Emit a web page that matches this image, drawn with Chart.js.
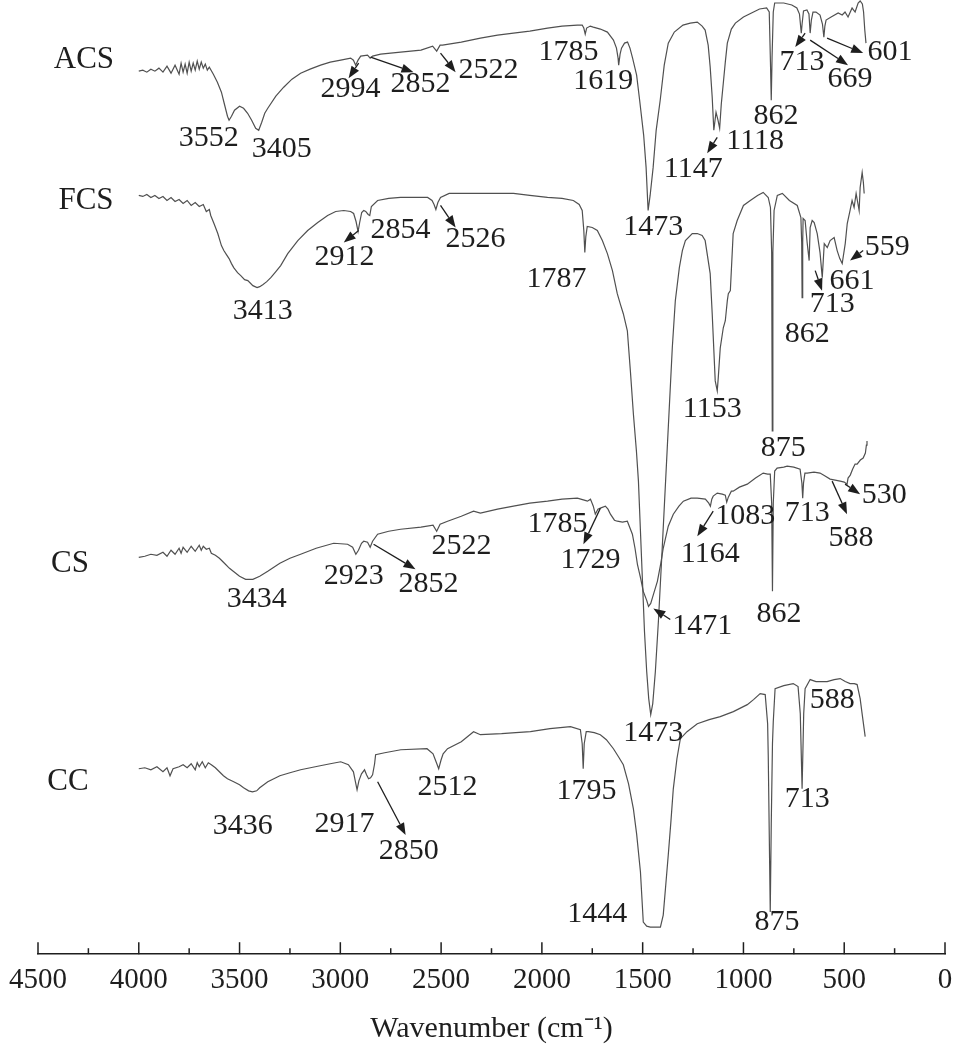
<!DOCTYPE html>
<html>
<head>
<meta charset="utf-8">
<title>FTIR spectra</title>
<script src="https://cdn.jsdelivr.net/npm/chart.js@4.4.1/dist/chart.umd.min.js"></script>
<style>
  html, body { margin: 0; padding: 0; background: #fff; }
  canvas { display: block; }
</style>
</head>
<body>
<canvas id="ftirChart" width="955" height="1051"></canvas>
<script>
// Spectra: [wavenumber (cm-1), relative signal (a.u., offset per curve)]
const acsSpectrum = [
  [4000,871],[3980,872],[3960,870],[3940,873],[3920,871],[3900,874],[3880,870],[3860,876],[3840,869],[3820,877],
  [3800,868],[3790,879],[3780,870],[3770,878],[3760,869],[3750,880],[3740,871],[3730,879],[3720,872],[3710,881],
  [3700,873],[3690,880],[3680,874],[3670,878],[3660,872],[3650,875],[3630,868],[3610,860],[3590,850],[3575,838],
  [3560,826],[3552,822],[3540,826],[3525,832],[3500,836],[3480,834],[3460,829],[3440,822],[3420,814],[3405,812],
  [3390,820],[3375,829],[3360,834],[3320,846],[3281,855],[3240,863],[3197,869],[3150,873],[3098,877],[3050,880],
  [2998,882],[2949,884],[2935,882],[2924,877],[2912,882],[2899,886],[2865,887],[2852,884],[2840,886],[2800,888],
  [2701,890],[2600,892],[2542,896],[2522,891],[2505,897],[2493,897],[2400,900],[2305,904],[2220,907],[2141,909],
  [2060,911],[1972,914],[1900,916],[1824,917],[1800,917],[1792,914],[1785,908],[1778,914],[1760,916],[1745,915],
  [1710,913],[1675,910],[1645,902],[1630,894],[1622,884],[1619,877],[1612,888],[1605,894],[1590,899],[1575,900],
  [1563,894],[1550,884],[1530,867],[1515,842],[1495,807],[1483,775],[1473,732],[1463,747],[1448,775],[1433,812],
  [1413,842],[1393,877],[1373,899],[1343,910],[1300,917],[1264,919],[1229,920],[1205,916],[1190,912],[1175,897],
  [1165,875],[1155,845],[1147,812],[1136,830],[1126,822],[1118,814],[1110,838],[1100,859],[1090,880],[1080,899],
  [1060,913],[1040,919],[1000,925],[960,929],[920,933],[885,934],[872,930],[866,880],[862,842],[858,885],
  [852,930],[845,939],[800,939],[760,937],[735,934],[722,928],[716,915],[713,909],[709,918],[702,931],
  [685,932],[675,928],[669,909],[663,922],[655,930],[640,930],[620,927],[608,918],[601,905],[596,916],
  [590,922],[565,925],[530,929],[510,927],[496,930],[481,925],[461,934],[446,930],[431,939],[421,941],
  [410,938],[404,930],[398,912],[392,899]
];

const fcsSpectrum = [
  [4000,747],[3980,746],[3960,748],[3940,745],[3920,747],[3900,744],[3880,746],[3860,742],[3840,745],[3820,741],
  [3800,743],[3780,739],[3760,742],[3740,737],[3720,740],[3700,736],[3680,738],[3665,731],[3650,733],[3643,727],
  [3625,718],[3608,709],[3590,697],[3578,692],[3565,688],[3552,684],[3540,679],[3529,675],[3510,670],[3494,667],
  [3475,663],[3459,662],[3434,657],[3413,655],[3400,656],[3385,658],[3365,661],[3345,665],[3320,671],[3296,677],
  [3261,689],[3211,702],[3162,712],[3112,720],[3063,727],[3023,731],[2983,732],[2949,731],[2934,729],[2922,721],
  [2912,711],[2904,720],[2894,730],[2884,732],[2874,731],[2862,728],[2854,727],[2846,736],[2815,742],[2760,744],
  [2701,745],[2630,745],[2567,745],[2545,742],[2535,738],[2526,733],[2516,740],[2503,745],[2460,749],[2380,749],
  [2300,749],[2220,749],[2141,749],[2060,747],[1972,745],[1900,744],[1844,742],[1815,738],[1800,732],[1792,712],
  [1787,690],[1782,706],[1775,716],[1750,715],[1725,712],[1700,702],[1675,689],[1650,672],[1626,649],[1610,638],
  [1596,629],[1576,612],[1561,572],[1546,529],[1531,492],[1521,462],[1511,412],[1501,362],[1491,312],[1480,272],
  [1470,245],[1460,229],[1450,240],[1437,272],[1422,322],[1403,395],[1378,495],[1353,595],[1338,642],[1318,675],
  [1303,692],[1288,702],[1254,709],[1229,709],[1205,707],[1190,702],[1165,669],[1155,629],[1140,562],[1130,552],
  [1125,565],[1115,595],[1100,615],[1090,622],[1080,642],[1075,649],[1065,652],[1051,709],[1031,722],[1000,737],
  [966,742],[930,747],[902,750],[877,745],[866,735],[860,690],[857,512],[854,690],[848,732],[832,747],
  [807,749],[772,742],[733,737],[715,725],[711,700],[709,645],[706,700],[704,724],[694,722],[684,700],
  [674,682],[669,715],[659,722],[649,720],[634,709],[620,690],[609,665],[599,699],[584,695],[570,702],
  [550,705],[535,692],[522,684],[510,679],[495,699],[485,719],[471,732],[461,742],[451,735],[441,749],
  [426,732],[421,755],[411,770],[405,760],[401,749]
];

const csSpectrum = [
  [4000,386],[3970,387],[3940,389],[3910,388],[3880,391],[3860,387],[3840,393],[3820,389],[3800,395],[3790,390],
  [3780,396],[3760,391],[3740,397],[3720,392],[3700,398],[3690,393],[3680,397],[3665,394],[3650,395],[3640,390],
  [3620,388],[3600,385],[3575,380],[3550,375],[3525,371],[3500,367],[3470,364],[3434,364],[3400,367],[3360,372],
  [3300,380],[3250,385],[3197,389],[3120,395],[3033,400],[2964,399],[2939,396],[2923,389],[2910,393],[2895,400],
  [2884,402],[2865,401],[2852,396],[2840,402],[2815,409],[2760,412],[2701,414],[2600,416],[2540,418],[2522,412],
  [2505,419],[2468,422],[2400,427],[2339,432],[2305,430],[2220,434],[2141,437],[2060,440],[1972,442],[1900,444],
  [1824,445],[1790,443],[1774,442],[1759,444],[1745,437],[1735,429],[1722,434],[1710,435],[1685,437],[1672,434],
  [1660,429],[1640,423],[1626,422],[1600,421],[1576,422],[1551,409],[1538,395],[1526,379],[1510,365],[1497,352],
  [1480,343],[1471,337],[1460,340],[1445,350],[1427,362],[1410,380],[1398,395],[1373,417],[1348,429],[1320,437],
  [1298,442],[1260,445],[1229,445],[1189,444],[1172,440],[1164,437],[1157,444],[1150,447],[1130,450],[1105,449],
  [1090,448],[1083,441],[1075,446],[1060,452],[1051,452],[1020,456],[981,459],[940,465],[902,470],[880,469],
  [867,469],[860,440],[856,352],[852,440],[845,472],[833,475],[800,476],[783,477],[750,476],[719,474],
  [710,460],[706,445],[702,460],[695,470],[684,470],[650,471],[620,470],[595,467],[570,464],[545,463],
  [520,462],[500,461],[486,459],[481,465],[470,468],[458,474],[446,479],[436,479],[420,483],[406,485],
  [395,490],[390,498],[387,502]
];

const ccSpectrum = [
  [4000,175],[3970,176],[3940,174],[3910,177],[3880,172],[3860,176],[3845,168],[3830,175],[3800,177],[3780,179],
  [3760,176],[3740,180],[3720,174],[3710,181],[3700,177],[3685,182],[3670,176],[3655,181],[3640,179],[3620,176],
  [3600,172],[3580,168],[3560,165],[3529,162],[3500,159],[3480,156],[3455,153],[3436,152],[3415,153],[3400,156],
  [3380,159],[3360,162],[3330,165],[3300,168],[3250,171],[3197,174],[3100,178],[3050,180],[2998,182],[2960,179],
  [2935,172],[2925,162],[2917,154],[2908,163],[2895,170],[2880,174],[2870,169],[2860,165],[2850,166],[2840,169],
  [2830,180],[2825,189],[2780,191],[2700,194],[2570,195],[2540,190],[2525,182],[2512,175],[2500,184],[2490,190],
  [2468,195],[2400,202],[2339,212],[2305,209],[2200,210],[2130,211],[2057,212],[1960,215],[1858,217],[1809,214],
  [1800,200],[1795,175],[1790,200],[1780,212],[1769,212],[1740,211],[1710,209],[1680,204],[1645,195],[1620,187],
  [1596,179],[1570,160],[1546,135],[1530,110],[1511,72],[1497,22],[1480,18],[1462,17],[1412,17],[1398,29],
  [1385,60],[1373,89],[1360,122],[1348,155],[1330,185],[1313,205],[1280,212],[1229,220],[1170,224],[1115,227],
  [1050,232],[981,239],[950,244],[917,250],[892,249],[880,220],[877,189],[870,80],[867,32],[862,120],
  [856,200],[852,222],[843,255],[800,258],[753,260],[729,257],[718,230],[709,155],[701,230],[694,255],
  [669,264],[640,262],[585,262],[550,264],[520,265],[495,262],[471,260],[450,260],[436,259],[421,245],
  [410,228],[396,207]
];

// Sample names: [text, wavenumber, signal]
const sampleNames = [
  ['ACS', 4272, 882], ['FCS', 4262, 742], ['CS', 4341, 379], ['CC', 4351, 162]
];

// Peak labels: [text, wavenumber, signal]
const peakLabels = [
  ['3552',3653,804],['3405',3291,793],['2994',2949,853],['2852',2602,858],['2522',2265,872],['1785',1868,890],
  ['1619',1695,861],['1473',1447,715],['1147',1249,773],['1118',942,801],['862',838,826],['713',709,880],
  ['669',471,863],['601',273,890],
  ['3413',3385,632],['2912',2979,685],['2854',2701,712],['2526',2329,703],['1787',1928,664],['1473',1447,211],
  ['1153',1155,534],['875',803,495],['862',684,609],['713',560,639],['661',461,662],['559',287,695],
  ['3434',3415,344],['2923',2934,367],['2852',2562,359],['2522',2399,397],['1785',1923,419],['1729',1759,383],
  ['1471',1204,317],['1164',1165,389],['1083',991,427],['713',684,430],['588',466,405],['530',302,448],
  ['862',823,329],
  ['3436',3484,118],['2917',2979,120],['2850',2661,93],['2512',2468,157],['1795',1779,153],['1444',1725,30],
  ['875',833,22],['713',684,145],['588',560,243]
];

// Arrows: [from wavenumber, from signal, to wavenumber, to signal]
const peakArrows = [
  [2909,879,2959,864],[2850,885,2637,870],[2503,889,2428,870],[1130,805,1180,789],
  [694,909,743,895],[669,902,481,877],[585,904,406,889],
  [2909,712,2983,700],[2503,737,2428,715],[644,672,610,652],[406,692,471,682],
  [2835,399,2627,374],[1710,435,1794,399],[1363,324,1447,335],[1150,432,1229,407],
  [560,462,486,429],[496,459,421,449],
  [2815,162,2676,109]
];

const serif = '"Liberation Serif", "Times New Roman", serif';
const inkColor = '#1e1e1e';
const lineColor = '#505050';

function toPoints(spectrum) {
  return spectrum.map(p => ({ x: p[0], y: p[1] }));
}

const annotationPlugin = {
  id: 'ftirAnnotations',
  afterDraw(chart) {
    const { ctx, chartArea } = chart;
    const xScale = chart.scales.x;
    const yScale = chart.scales.y;
    ctx.save();

    // inward tick marks on the wavenumber axis
    ctx.strokeStyle = inkColor;
    ctx.lineWidth = 1.5;
    for (let v = 0; v <= 4500; v += 250) {
      const px = xScale.getPixelForValue(v);
      const len = v % 500 === 0 ? 12 : 6;
      ctx.beginPath();
      ctx.moveTo(px, chartArea.bottom);
      ctx.lineTo(px, chartArea.bottom - len);
      ctx.stroke();
    }

    ctx.fillStyle = inkColor;
    ctx.textAlign = 'center';
    ctx.textBaseline = 'middle';

    ctx.font = '31px ' + serif;
    sampleNames.forEach(([text, wn, s]) => {
      ctx.fillText(text, xScale.getPixelForValue(wn), yScale.getPixelForValue(s));
    });

    ctx.font = '30px ' + serif;
    peakLabels.forEach(([text, wn, s]) => {
      ctx.fillText(text, xScale.getPixelForValue(wn), yScale.getPixelForValue(s));
    });

    // arrows with filled heads
    ctx.lineWidth = 1.3;
    peakArrows.forEach(([wn1, s1, wn2, s2]) => {
      const x1 = xScale.getPixelForValue(wn1), y1 = yScale.getPixelForValue(s1);
      const x2 = xScale.getPixelForValue(wn2), y2 = yScale.getPixelForValue(s2);
      const ang = Math.atan2(y2 - y1, x2 - x1);
      const headLen = 12, headHalf = 4.5;
      const bx = x2 - headLen * Math.cos(ang), by = y2 - headLen * Math.sin(ang);
      ctx.beginPath();
      ctx.moveTo(x1, y1);
      ctx.lineTo(bx, by);
      ctx.stroke();
      ctx.beginPath();
      ctx.moveTo(x2, y2);
      ctx.lineTo(bx + headHalf * Math.sin(ang), by - headHalf * Math.cos(ang));
      ctx.lineTo(bx - headHalf * Math.sin(ang), by + headHalf * Math.cos(ang));
      ctx.closePath();
      ctx.fill();
    });

    ctx.restore();
  }
};

const ctx = document.getElementById('ftirChart').getContext('2d');

const datasets = [
  { label: 'ACS', data: toPoints(acsSpectrum) },
  { label: 'FCS', data: toPoints(fcsSpectrum) },
  { label: 'CS', data: toPoints(csSpectrum) },
  { label: 'CC', data: toPoints(ccSpectrum) }
].map(ds => ({
  ...ds,
  showLine: true,
  borderColor: lineColor,
  borderWidth: 1.2,
  pointRadius: 0,
  tension: 0,
  fill: false
}));

new Chart(ctx, {
  type: 'scatter',
  data: { datasets: datasets },
  options: {
    responsive: false,
    animation: false,
    devicePixelRatio: 1,
    layout: { padding: { left: 38, right: 10, top: 0, bottom: 0 } },
    plugins: {
      legend: { display: false },
      tooltip: { enabled: false }
    },
    scales: {
      x: {
        type: 'linear',
        reverse: true,
        min: 0,
        max: 4500,
        grid: { display: false, drawTicks: false },
        border: { display: true, color: inkColor, width: 1.5 },
        // tick labels fit inside the layout padding, so drop the automatic label padding
        afterFit: scale => {
          scale.paddingLeft = 0;
          scale.paddingRight = 0;
        },
        ticks: {
          stepSize: 500,
          autoSkip: false,
          maxRotation: 0,
          padding: 9,
          color: inkColor,
          font: { family: serif, size: 29 },
          callback: value => String(value)
        },
        title: {
          display: true,
          text: 'Wavenumber (cm\u207B\u00B9)',
          color: inkColor,
          font: { family: serif, size: 30 },
          padding: { top: 4, bottom: 4 }
        }
      },
      y: {
        display: false,
        min: -10,
        max: 942
      }
    }
  },
  plugins: [annotationPlugin]
});
</script>
</body>
</html>
